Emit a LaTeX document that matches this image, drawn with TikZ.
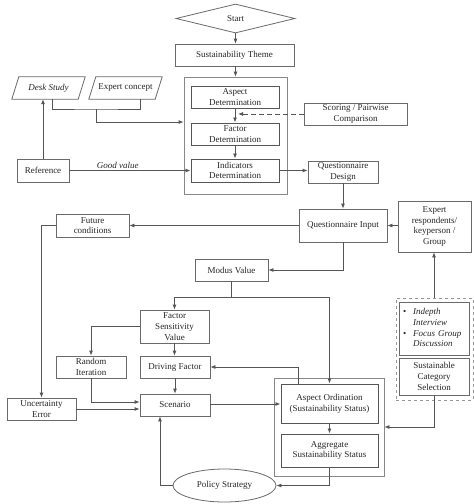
\documentclass[tikz,border=0pt]{standalone}
\usepackage{fontspec}
\setmainfont{Liberation Serif}
\usetikzlibrary{shapes.geometric,arrows.meta,calc}
\definecolor{ln}{HTML}{555555}
\definecolor{bx}{HTML}{6A6A6A}
\definecolor{tx}{HTML}{262626}
\tikzset{
  box/.style={draw=bx, line width=0.8pt, fill=white, text=tx, align=center, inner sep=1pt, font=\fontsize{9}{10.8}\selectfont},
  ibox/.style={box, draw=ln, line width=1.0pt},
  obox/.style={draw=bx!80, line width=0.8pt},
  txtn/.style={text=tx, align=center, inner sep=1pt, font=\fontsize{9}{10.8}\selectfont},
  conn/.style={draw=ln, line width=0.8pt},
  arr/.style={conn, -{Latex[length=5pt,width=4pt]}},
}
\begin{document}
\begin{tikzpicture}[x=1pt,y=-1pt]
\useasboundingbox[fill=white] (0,0) rectangle (474,504);
% outer boxes
\node[obox, minimum width=103, minimum height=117, inner sep=0] (outer1) at (235.5,135.5) {};
\node[obox, minimum width=110, minimum height=98, inner sep=0] (outer2) at (329,427) {};
\node[draw=bx!70, dashed, line width=0.8pt, minimum width=77, minimum height=102, inner sep=0] (dashbox) at (434.5,349) {};
% nodes
\node[box, diamond, minimum width=119, minimum height=29, inner sep=0] (start) at (235.5,18.5) {Start};
\node[box, minimum width=119, minimum height=22] (theme) at (234.5,55) {Sustainability Theme};
\node[ibox, minimum width=88, minimum height=22] (aspect) at (235,97) {Aspect\\Determination};
\node[ibox, minimum width=88, minimum height=22] (factor) at (235,134) {Factor\\Determination};
\node[ibox, minimum width=88, minimum height=23] (indic) at (235,170.5) {Indicators\\Determination};
\node[box, minimum width=103, minimum height=22] (scoring) at (355.5,114) {Scoring / Pairwise\\Comparison};
\node[txtn, minimum width=66, minimum height=22] (desk) at (48.5,88) {\textit{Desk Study}};
\draw[draw=bx, line width=0.8pt] ($(desk.south west)+(-3.5,0)$) -- ($(desk.north west)+(3.5,0)$) -- ($(desk.north east)+(3.5,0)$) -- ($(desk.south east)+(-3.5,0)$) -- cycle;
\node[txtn, minimum width=66, minimum height=22] (expertc) at (125.5,88) {Expert concept};
\draw[draw=bx, line width=0.8pt] ($(expertc.south west)+(-3.5,0)$) -- ($(expertc.north west)+(3.5,0)$) -- ($(expertc.north east)+(3.5,0)$) -- ($(expertc.south east)+(-3.5,0)$) -- cycle;
\node[box, minimum width=52, minimum height=23] (ref) at (43,170.5) {Reference};
\node[box, minimum width=70, minimum height=22] (qdesign) at (343,172) {Questionnaire\\Design};
\node[box, minimum width=88, minimum height=33] (qinput) at (343,225.5) {Questionnaire Input};
\node[box, minimum width=73, minimum height=51] (expertr) at (434.5,226.5) {Expert\\respondents/\\keyperson /\\Group};
\node[box, minimum width=73, minimum height=23] (future) at (92.5,225.5) {Future\\conditions};
\node[box, minimum width=73, minimum height=22] (modus) at (231.5,270) {Modus Value};
\node[box, minimum width=69, minimum height=33] (fsv) at (174.5,326.5) {Factor\\Sensitivity\\Value};
\node[box, minimum width=70, minimum height=22] (random) at (91,367) {Random\\Iteration};
\node[box, minimum width=70, minimum height=22] (driving) at (175,367) {Driving Factor};
\node[box, minimum width=69, minimum height=22] (uncert) at (41.5,409) {Uncertainty\\Error};
\node[box, minimum width=70, minimum height=22] (scenario) at (175,405) {Scenario};
\node[ibox, minimum width=97, minimum height=39] (ao) at (329.5,403.5) {Aspect Ordination\\(Sustainability Status)};
\node[ibox, minimum width=97, minimum height=33] (ass) at (329.5,450.5) {Aggregate\\Sustainability Status};
\node[box, align=left, text width=62pt, minimum width=70, minimum height=53, inner sep=0pt] (bullets) at (434,328.5) {%
  \begin{tabular}{@{}l@{\hspace{7pt}}l@{}}\textbullet & \textit{Indepth}\\ & \textit{Interview}\\ \textbullet & \textit{Focus Group}\\ & \textit{Discussion}\end{tabular}};
\node[box, minimum width=70, minimum height=37] (scs) at (434,376.5) {Sustainable\\Category\\Selection};
\node[box, ellipse, minimum width=103, minimum height=33, inner sep=0] (policy) at (224.5,485.5) {Policy Strategy};
% helper coordinates
\coordinate (af) at (238,114);
\coordinate (jn) at (96,109);
\coordinate (jm) at (231.5,297);
% connectors
\draw[arr] (start.south) -- (start.south |- theme.north);
\draw[arr] (theme.south -| start.south) -- (start.south |- outer1.north);
\draw[arr] (aspect.south) -- (factor.north);
\draw[arr] (factor.south) -- (indic.north);
\draw[arr, dashed, dash pattern=on 5pt off 3pt] (scoring.west) -- (af);
\draw[conn] ($(desk.south)+(3.5,0)$) |- (jn) -| ($(expertc.south)+(14.5,0)$);
\draw[arr] (jn) |- ($(outer1.west)+(0,-13.5)$);
\draw[arr] (ref.north) -- (ref.north |- desk.south);
\draw[arr] (ref.east) -- node[pos=0.4, above, txtn, font=\fontsize{9}{10.8}\selectfont\itshape] {Good value} (indic.west);
\draw[arr] (indic.east) -- (qdesign.west |- indic.east);
\draw[arr] (qdesign.south) -- (qinput.north);
\draw[arr] (expertr.west |- qinput.east) -- (qinput.east);
\draw[arr] (qinput.west) -- (future.east);
\draw[arr] (future.west) -| (uncert.north);
\draw[arr] (qinput.south) |- (modus.east);
\draw[conn] (modus.south) -- (jm);
\draw[arr] (jm) -| (fsv.north);
\draw[arr] (jm) -| (ao.north);
\draw[arr] (fsv.west) -| (random.north);
\draw[arr] (fsv.south) -- (fsv.south |- driving.north);
\draw[arr] (driving.south) -- (scenario.north);
\draw[arr] (random.south) |- ($(scenario.west)+(0,-3)$);
\draw[arr] (uncert.east) -- ($(scenario.west)+(0,4)$);
\draw[arr] ($(scenario.east)+(0,-1)$) -- ($(ao.west)+(0,0.5)$);
\draw[arr] ($(ao.north)+(-31.5,0)$) |- (driving.east);
\draw[arr] (ao.south) -- (ass.north);
\draw[arr] (scs.south) |- (outer2.east);
\draw[arr] (dashbox.north -| scs.south) -- (expertr.south -| scs.south);
\draw[arr] (ass.south) |- (policy.east);
\draw[arr] (policy.west) -| ($(scenario.south)+(-15,0)$);
\end{tikzpicture}
\end{document}
